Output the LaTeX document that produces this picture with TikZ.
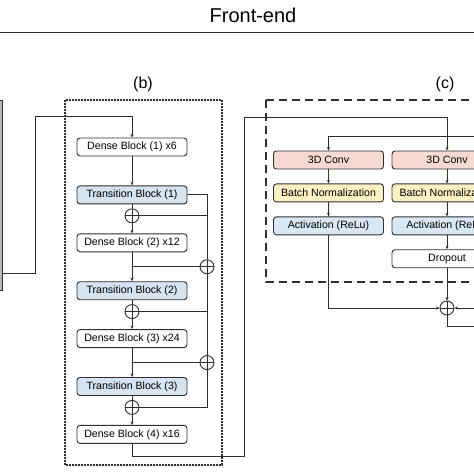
\documentclass[tikz,border=0pt]{standalone}
\usepackage{fontspec}
\setmainfont{Liberation Sans}
\usetikzlibrary{arrows.meta, positioning, calc}

\definecolor{inkgray}{HTML}{2F2F2F}
\definecolor{transfill}{HTML}{D6E3F0}
\definecolor{convfill}{HTML}{F8D9D2}
\definecolor{normfill}{HTML}{FBF1C4}
\definecolor{actfill}{HTML}{DAE7F5}

\begin{document}
\begin{tikzpicture}[x=1pt, y=-1pt,
    block/.style = {rectangle, draw=inkgray, fill=white, line width=0.9pt, rounded corners=3pt, minimum width=110pt, minimum height=18pt, inner sep=0pt, font=\fontsize{10.6}{12}\selectfont},
    transblock/.style = {block, fill=transfill},
    convbox/.style = {block, fill=convfill},
    normbox/.style = {block, fill=normfill},
    actbox/.style = {block, fill=actfill},
    sumnode/.style = {circle, draw=inkgray, line width=0.9pt, fill=white, minimum size=14pt, inner sep=0pt,
        path picture={\draw[inkgray, line width=0.9pt] (path picture bounding box.north) -- (path picture bounding box.south)
            (path picture bounding box.west) -- (path picture bounding box.east);}},
    link/.style = {draw=inkgray, line width=0.9pt},
    arrow/.style = {link, -{Stealth[length=3.5pt, width=3pt]}},
    tag/.style = {font=\fontsize{16}{18}\selectfont}
]
\useasboundingbox (0,0) rectangle (474,474);
\clip (0,0) rectangle (474,474);

% Header
\node (title) [font=\fontsize{20}{22}\selectfont] at (253,15) {Front-end};
\draw [draw=inkgray, line width=0.8pt] (0,32) -- (474,32);

% Previous stage (cut off at the left edge)
\node (prevbox) [draw=inkgray, fill=gray!55, line width=0.9pt, minimum width=20pt, minimum height=190pt, anchor=north east] at (3,100) {};

% Group frames
\draw [draw=inkgray, line width=1.4pt, dash pattern=on 1.6pt off 1.4pt] (65,100) rectangle (222,465);
\draw [draw=inkgray, line width=1.4pt, dash pattern=on 8pt off 5pt] (266,100) rectangle (530,282);
\node (tagb) [tag] at (143,84) {(b)};
\node (tagc) [tag] at (445,84) {(c)};

% Column (b): dense and transition blocks
\node (db1) [block] at (132,147) {Dense Block (1) x6};
\node (tb1) [transblock, below=29pt of db1] {Transition Block (1)};
\node (db2) [block, below=29pt of tb1] {Dense Block (2) x12};
\node (tb2) [transblock, below=29pt of db2] {Transition Block (2)};
\node (db3) [block, below=29pt of tb2] {Dense Block (3) x24};
\node (tb3) [transblock, below=29pt of db3] {Transition Block (3)};
\node (db4) [block, below=29pt of tb3] {Dense Block (4) x16};

% Sums on the main line
\node (pl1) [sumnode, below=4pt of tb1] {};
\node (pl2) [sumnode, below=4pt of tb2] {};
\node (pl3) [sumnode, below=4pt of tb3] {};

% Sums on the skip rail
\coordinate (rail) at (207,0);
\path ($(db2.south)!0.5!(tb2.north)$) coordinate (br1);
\path ($(db3.south)!0.5!(tb3.north)$) coordinate (br2);
\node (pr1) [sumnode] at (br1 -| rail) {};
\node (pr2) [sumnode] at (br2 -| rail) {};

% Column (c): conv branches
\node (conv1) [convbox] at (328.5,160) {3D Conv};
\node (norm1) [normbox, below=14pt of conv1] {Batch Normalization};
\node (act1) [actbox, below=14pt of norm1] {Activation (ReLu)};
\node (conv2) [convbox] at (447,160) {3D Conv};
\node (norm2) [normbox, below=14pt of conv2] {Batch Normalization};
\node (act2) [actbox, below=14pt of norm2] {Activation (ReLu)};
\node (drop2) [block, below=14pt of act2] {Dropout};
\node (sumc) [sumnode] at (447,308) {};

% Free ends
\coordinate (leftbend) at (35,116);
\coordinate (crossbend) at (244,117);
\coordinate (rin) at (474,136);
\coordinate (rsum) at (474,308);
\coordinate (rout) at (474,326);

% Input into (b)
\draw [arrow] ($(prevbox.south east)+(0,-17)$) -| (leftbend) -| (db1.north);

% Main line of (b)
\draw [arrow] (db1) -- (tb1);
\draw [link] (tb1) -- (pl1);
\draw [arrow] (pl1) -- (db2);
\draw [arrow] (db2) -- (tb2);
\draw [link] (tb2) -- (pl2);
\draw [arrow] (pl2) -- (db3);
\draw [arrow] (db3) -- (tb3);
\draw [link] (tb3) -- (pl3);
\draw [arrow] (pl3) -- (db4);

% Skip rail of (b)
\draw [link] (tb1.east) -| (pr1.north);
\draw [link] (pr1.south) -- (pr2.north);
\draw [link] (pr2.south) |- (pl3.east);
\draw [link] (pl1.east -| pr1) -- (pl1.east);
\draw [link] (pl2.east -| pr1) -- (pl2.east);
\draw [link] (pr1.west -| db2) -- (pr1.west);
\draw [link] (pr2.west -| db3) -- (pr2.west);

% (b) into (c)
\draw [arrow] (db4.south) -- ++(0,13) -| (crossbend) -| (conv2.north);
\draw [arrow] (rin) -| (conv1.north);

% Inside (c)
\draw [arrow] (conv1) -- (norm1);
\draw [arrow] (norm1) -- (act1);
\draw [arrow] (conv2) -- (norm2);
\draw [arrow] (norm2) -- (act2);
\draw [arrow] (act2) -- (drop2);
\draw [arrow] (drop2) -- (sumc);
\draw [arrow] (act1.south) |- (sumc.west);
\draw [arrow] (rsum) -- (sumc.east);
\draw [link] (sumc.south) |- (rout);

\end{tikzpicture}
\end{document}
